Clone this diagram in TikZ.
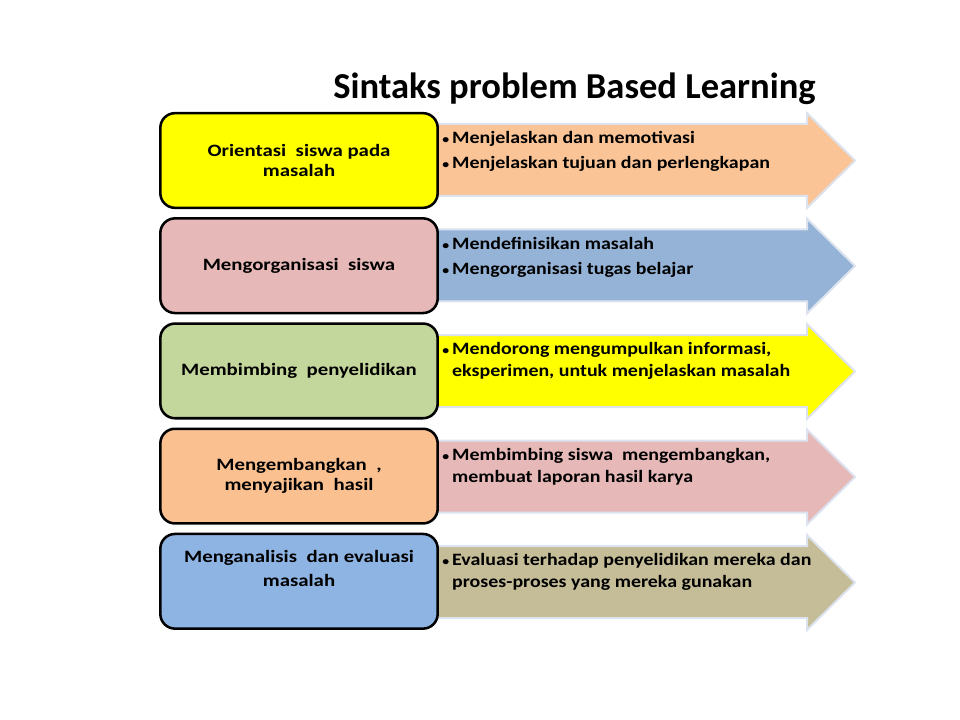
\documentclass[tikz,border=0pt]{standalone}
\usepackage{fontspec}
\setmainfont{Carlito}
\newfontfamily\widefont[FakeStretch=1.15]{Carlito}
\newfontfamily\widerfont[FakeStretch=1.2]{Carlito}
\usetikzlibrary{positioning}
\definecolor{boxyellow}{HTML}{FFFF00}
\definecolor{boxpink}{HTML}{E6B9B8}
\definecolor{boxgreen}{HTML}{C3D69B}
\definecolor{boxpeach}{HTML}{FAC090}
\definecolor{boxblue}{HTML}{8EB4E3}
\definecolor{arrpeach}{HTML}{FAC496}
\definecolor{arrblue}{HTML}{95B3D7}
\definecolor{arryellow}{HTML}{FFFF00}
\definecolor{arrpink}{HTML}{E6B9B8}
\definecolor{arrtan}{HTML}{C4BD97}
\definecolor{arrline}{HTML}{DCE3EE}
\tikzset{
  stepbox/.style={draw=black, line width=1.9pt, rounded corners=11pt,
    minimum width=208pt, minimum height=71pt, align=center, inner sep=2pt,
    font=\widerfont\bfseries\fontsize{13}{15}\selectfont},
  arrowbody/.style={draw=arrline, line width=1.5pt},
  itemtext/.style={anchor=north west, align=left, inner sep=0pt,
    font=\widefont\bfseries\fontsize{13}{16.5}\selectfont},
}
\newcommand{\itm}{\makebox[8.2pt][l]{\hspace{0.8pt}{\fontsize{9}{9}\selectfont\textbullet}}}
\newcommand{\ind}{\hspace*{8.2pt}}
\begin{document}
\begin{tikzpicture}[x=0.75pt,y=-0.75pt]
\useasboundingbox (0,0) rectangle (960,720);

% Title
\node[font=\bfseries\fontsize{27.4}{33}\selectfont, anchor=base west, inner sep=0pt] (title) at (333,99) {Sintaks problem Based Learning};

% Arrows behind the steps
\foreach \t/\c in {113/arrpeach,218.5/arrblue,324/arryellow,429.5/arrpink,535/arrtan} {
  \filldraw[arrowbody, fill=\c] (425,\t+11) -- (807,\t+11) -- (807,\t) -- (855,\t+47.5)
    -- (807,\t+95) -- (807,\t+83) -- (425,\t+83) -- cycle;
}

% Steps
\node[stepbox, fill=boxyellow] (s1) at (299,160.5) {Orientasi~ siswa pada\\masalah};
\node[stepbox, fill=boxpink, below=6pt of s1] (s2) {Mengorganisasi~ siswa};
\node[stepbox, fill=boxgreen, below=6pt of s2] (s3) {Membimbing~ penyelidikan};
\node[stepbox, fill=boxpeach, below=6pt of s3] (s4) {Mengembangkan~ ,\\menyajikan~ hasil};
\node[stepbox, fill=boxblue, below=6pt of s4] (s5) {Menganalisis~ dan evaluasi\\[3pt]masalah\\[4pt]\mbox{}};

% Activities
\node[itemtext] (d1) at (441,131.5) {\itm Menjelaskan dan memotivasi\\[2pt]\itm Menjelaskan tujuan dan perlengkapan};
\node[itemtext] (d2) at (441,237) {\itm Mendefinisikan masalah\\[2pt]\itm Mengorganisasi tugas belajar};
\node[itemtext] (d3) at (441,342.5) {\itm Mendorong mengumpulkan informasi,\\\ind eksperimen, untuk menjelaskan masalah};
\node[itemtext] (d4) at (441,448) {\itm Membimbing siswa~ mengembangkan,\\\ind membuat laporan hasil karya};
\node[itemtext] (d5) at (441,553.5) {\itm Evaluasi terhadap penyelidikan mereka dan\\\ind proses-proses yang mereka gunakan};
\end{tikzpicture}
\end{document}
